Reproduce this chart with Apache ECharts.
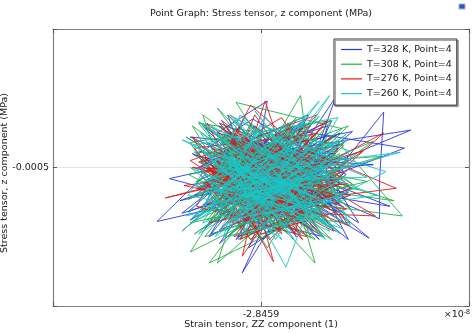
<!DOCTYPE html>
<html><head><meta charset="utf-8">
<script src="https://cdn.jsdelivr.net/npm/echarts@6/dist/echarts.min.js"></script>
<style>html,body{margin:0;padding:0;background:#fff}#c{width:474px;height:333px}</style>
</head><body><div id="c"></div>
<script>
const seriesNames = ['T=328 K, Point=4', 'T=308 K, Point=4', 'T=276 K, Point=4', 'T=260 K, Point=4'];
const seriesColors = ['#2a36e0', '#25b04a', '#e01818', '#16c6c6'];
const xTickLabels = [-2.8459];
const yTickLabels = [-0.0005];

const blueX = [-2.845912,-2.845880,-2.845925,-2.845871,-2.845903,-2.845950,-2.845895,-2.845864,-2.845918,-2.845884,
-2.845841,-2.845843,-2.845843,-2.845899,-2.845930,-2.845876,-2.845909,-2.845890,-2.845868,-2.845921,
-2.845897,-2.845905,-2.845862,-2.845915,-2.845882,-2.845828,-2.845896,-2.845927,-2.845873,-2.845907,
-2.845939,-2.845886,-2.845858,-2.845901,-2.845919,-2.845877,-2.845864,-2.845893,-2.845911,-2.845870,
-2.845924,-2.845888,-2.845831,-2.845904,-2.845880,-2.845916,-2.845896,-2.845866,-2.845908,-2.845929,
-2.845885,-2.845872,-2.845902,-2.845920,-2.845878,-2.845853,-2.845898,-2.845914,-2.845887,-2.845934,
-2.845869,-2.845906,-2.845890,-2.845846,-2.845923,-2.845881,-2.845900,-2.845912,-2.845875,-2.845894,
-2.845928,-2.845861,-2.845905,-2.845883,-2.845917,-2.845892,-2.845870,-2.845938,-2.845899,-2.845856,
-2.845910,-2.845886,-2.845921,-2.845874,-2.845903,-2.845848,-2.845895,-2.845913,-2.845879,-2.845927,
-2.845891,-2.845866,-2.845908,-2.845884,-2.845944,-2.845897,-2.845872,-2.845916,-2.845889,-2.845860,
-2.845904,-2.845931,-2.845882,-2.845898,-2.845868,-2.845912,-2.845838,-2.845893,-2.845920,-2.845879,
-2.845860,-2.845928,-2.845872,-2.845915,-2.845858,-2.845905,-2.845931,-2.845866,-2.845890,-2.845922,
-2.845862,-2.845934,-2.845879,-2.845911,-2.845857,-2.845926,-2.845884,-2.845868,-2.845930,-2.845899,
-2.845859,-2.845920,-2.845875,-2.845933,-2.845864,-2.845908,-2.845927,-2.845870,-2.845918,-2.845856,
-2.845924,-2.845881,-2.845932,-2.845863,-2.845912,-2.845877,-2.845929,-2.845861,-2.845903,-2.845921,
-2.845866,-2.845935,-2.845887,-2.845858,-2.845916,-2.845873,-2.845925,-2.845894,-2.845860,-2.845930];
const blueY = [-0.000505,-0.000478,-0.000530,-0.000512,-0.000470,-0.000539,-0.000520,-0.000490,-0.000488,-0.000541,
-0.000460,-0.000509,-0.000537,-0.000501,-0.000515,-0.000468,-0.000576,-0.000530,-0.000497,-0.000475,
-0.000452,-0.000523,-0.000526,-0.000498,-0.000507,-0.000473,-0.000489,-0.000544,-0.000482,-0.000512,
-0.000524,-0.000495,-0.000518,-0.000536,-0.000481,-0.000503,-0.000449,-0.000514,-0.000493,-0.000535,
-0.000507,-0.000472,-0.000486,-0.000528,-0.000519,-0.000462,-0.000547,-0.000508,-0.000484,-0.000499,
-0.000526,-0.000491,-0.000505,-0.000532,-0.000479,-0.000540,-0.000496,-0.000517,-0.000485,-0.000478,
-0.000521,-0.000558,-0.000503,-0.000498,-0.000490,-0.000532,-0.000474,-0.000524,-0.000509,-0.000539,
-0.000511,-0.000483,-0.000497,-0.000550,-0.000470,-0.000515,-0.000502,-0.000533,-0.000487,-0.000474,
-0.000542,-0.000494,-0.000520,-0.000528,-0.000481,-0.000551,-0.000508,-0.000499,-0.000466,-0.000527,
-0.000523,-0.000495,-0.000535,-0.000488,-0.000508,-0.000527,-0.000517,-0.000486,-0.000543,-0.000503,
-0.000465,-0.000491,-0.000512,-0.000532,-0.000476,-0.000510,-0.000528,-0.000496,-0.000555,-0.000500,
-0.000540,-0.000470,-0.000552,-0.000478,-0.000495,-0.000548,-0.000510,-0.000466,-0.000545,-0.000530,
-0.000475,-0.000538,-0.000468,-0.000550,-0.000520,-0.000482,-0.000548,-0.000470,-0.000500,-0.000552,
-0.000505,-0.000468,-0.000545,-0.000490,-0.000532,-0.000464,-0.000528,-0.000550,-0.000476,-0.000515,
-0.000548,-0.000470,-0.000520,-0.000486,-0.000552,-0.000462,-0.000496,-0.000528,-0.000470,-0.000540,
-0.000490,-0.000532,-0.000468,-0.000552,-0.000480,-0.000510,-0.000550,-0.000472,-0.000522,-0.000488];

const greenX = [-2.845895,-2.845921,-2.845880,-2.845934,-2.845903,-2.845871,-2.845925,-2.845889,-2.845912,-2.845865,
-2.845832,-2.845898,-2.845917,-2.845876,-2.845881,-2.845907,-2.845874,-2.845891,-2.845929,-2.845862,
-2.845904,-2.845885,-2.845919,-2.845836,-2.845896,-2.845910,-2.845870,-2.845932,-2.845887,-2.845901,
-2.845921,-2.845879,-2.845913,-2.845868,-2.845894,-2.845926,-2.845883,-2.845906,-2.845860,-2.845915,
-2.845890,-2.845873,-2.845928,-2.845899,-2.845849,-2.845911,-2.845884,-2.845920,-2.845867,-2.845902,
-2.845938,-2.845893,-2.845876,-2.845914,-2.845888,-2.845857,-2.845905,-2.845923,-2.845880,-2.845896,
-2.845870,-2.845918,-2.845842,-2.845900,-2.845931,-2.845886,-2.845909,-2.845864,-2.845892,-2.845916,
-2.845878,-2.845903,-2.845930,-2.845882,-2.845911,-2.845869,-2.845897,-2.845922,-2.845888,-2.845853,
-2.845907,-2.845926,-2.845875,-2.845894,-2.845919,-2.845866,-2.845901,-2.845884,-2.845935,-2.845898,
-2.845872,-2.845913,-2.845890,-2.845846,-2.845908,-2.845880,-2.845924,-2.845895,-2.845863,-2.845916,
-2.845887,-2.845903,-2.845929,-2.845877,-2.845899,-2.845914,-2.845869,-2.845892,-2.845921,-2.845884,
-2.845932,-2.845861,-2.845912,-2.845870,-2.845926,-2.845858,-2.845905,-2.845934,-2.845866,-2.845912,
-2.845880,-2.845929,-2.845857,-2.845921,-2.845874,-2.845935,-2.845863,-2.845909,-2.845928,-2.845868,
-2.845916,-2.845859,-2.845931,-2.845877,-2.845924,-2.845862,-2.845900,-2.845933,-2.845871,-2.845915,
-2.845856,-2.845927,-2.845883,-2.845919,-2.845864,-2.845936,-2.845875,-2.845911,-2.845860,-2.845930,
-2.845887,-2.845922,-2.845858,-2.845904,-2.845929,-2.845866,-2.845918,-2.845873,-2.845934,-2.845862];
const greenY = [-0.000510,-0.000457,-0.000520,-0.000561,-0.000488,-0.000530,-0.000569,-0.000499,-0.000536,-0.000478,
-0.000535,-0.000522,-0.000494,-0.000505,-0.000448,-0.000515,-0.000569,-0.000482,-0.000520,-0.000512,
-0.000541,-0.000471,-0.000507,-0.000524,-0.000496,-0.000527,-0.000490,-0.000489,-0.000531,-0.000476,
-0.000569,-0.000514,-0.000483,-0.000539,-0.000503,-0.000532,-0.000464,-0.000509,-0.000497,-0.000548,
-0.000518,-0.000475,-0.000503,-0.000529,-0.000510,-0.000492,-0.000540,-0.000478,-0.000521,-0.000500,
-0.000546,-0.000485,-0.000551,-0.000514,-0.000493,-0.000530,-0.000468,-0.000525,-0.000502,-0.000537,
-0.000483,-0.000499,-0.000492,-0.000517,-0.000510,-0.000477,-0.000533,-0.000506,-0.000545,-0.000488,
-0.000526,-0.000495,-0.000467,-0.000511,-0.000520,-0.000492,-0.000558,-0.000497,-0.000472,-0.000516,
-0.000504,-0.000538,-0.000498,-0.000524,-0.000481,-0.000544,-0.000512,-0.000487,-0.000523,-0.000500,
-0.000463,-0.000527,-0.000509,-0.000481,-0.000549,-0.000535,-0.000511,-0.000490,-0.000523,-0.000474,
-0.000516,-0.000532,-0.000495,-0.000507,-0.000543,-0.000503,-0.000515,-0.000479,-0.000529,-0.000499,
-0.000548,-0.000472,-0.000453,-0.000550,-0.000500,-0.000520,-0.000552,-0.000482,-0.000466,-0.000545,
-0.000470,-0.000530,-0.000540,-0.000476,-0.000552,-0.000505,-0.000488,-0.000548,-0.000462,-0.000528,
-0.000550,-0.000480,-0.000515,-0.000468,-0.000540,-0.000495,-0.000552,-0.000470,-0.000538,-0.000462,
-0.000512,-0.000550,-0.000466,-0.000490,-0.000546,-0.000478,-0.000530,-0.000552,-0.000484,-0.000468,
-0.000548,-0.000505,-0.000470,-0.000536,-0.000492,-0.000552,-0.000476,-0.000520,-0.000540,-0.000490];

const redX = [-2.845898,-2.845946,-2.845884,-2.845910,-2.845876,-2.845835,-2.845903,-2.845890,-2.845917,-2.845868,
-2.845841,-2.845896,-2.845907,-2.845880,-2.845898,-2.845914,-2.845887,-2.845872,-2.845904,-2.845894,
-2.845921,-2.845882,-2.845909,-2.845866,-2.845899,-2.845909,-2.845886,-2.845926,-2.845875,-2.845902,
-2.845893,-2.845918,-2.845862,-2.845905,-2.845888,-2.845928,-2.845879,-2.845897,-2.845912,-2.845870,
-2.845893,-2.845906,-2.845884,-2.845919,-2.845858,-2.845901,-2.845889,-2.845915,-2.845877,-2.845933,
-2.845895,-2.845866,-2.845908,-2.845883,-2.845920,-2.845891,-2.845873,-2.845904,-2.845912,-2.845845,
-2.845887,-2.845900,-2.845924,-2.845878,-2.845896,-2.845869,-2.845913,-2.845885,-2.845930,-2.845892,
-2.845863,-2.845907,-2.845881,-2.845917,-2.845894,-2.845872,-2.845902,-2.845890,-2.845927,-2.845876,
-2.845909,-2.845885,-2.845860,-2.845899,-2.845916,-2.845888,-2.845905,-2.845871,-2.845937,-2.845893,
-2.845880,-2.845911,-2.845898,-2.845851,-2.845903,-2.845889,-2.845922,-2.845874,-2.845907,-2.845895,
-2.845882,-2.845914,-2.845867,-2.845900,-2.845925,-2.845886,-2.845904,-2.845877,-2.845918,-2.845893,
-2.845870,-2.845920,-2.845862,-2.845905,-2.845931,-2.845878,-2.845915,-2.845857,-2.845896,-2.845926,
-2.845866,-2.845912,-2.845881,-2.845934,-2.845873,-2.845918,-2.845860,-2.845905,-2.845929,-2.845884,
-2.845914,-2.845868,-2.845924,-2.845859,-2.845900,-2.845932,-2.845875,-2.845910,-2.845864,-2.845922,
-2.845890,-2.845858,-2.845927,-2.845872,-2.845916,-2.845862,-2.845906,-2.845933,-2.845880,-2.845919,
-2.845869,-2.845925,-2.845886,-2.845857,-2.845913,-2.845877,-2.845930,-2.845865,-2.845903,-2.845921];
const redY = [-0.000505,-0.000522,-0.000498,-0.000515,-0.000489,-0.000515,-0.000528,-0.000492,-0.000503,-0.000511,
-0.000475,-0.000519,-0.000486,-0.000534,-0.000452,-0.000525,-0.000507,-0.000497,-0.000512,-0.000568,
-0.000495,-0.000520,-0.000480,-0.000531,-0.000499,-0.000564,-0.000513,-0.000509,-0.000486,-0.000523,
-0.000494,-0.000538,-0.000502,-0.000507,-0.000476,-0.000527,-0.000516,-0.000485,-0.000499,-0.000524,
-0.000511,-0.000533,-0.000490,-0.000517,-0.000512,-0.000496,-0.000541,-0.000488,-0.000505,-0.000500,
-0.000514,-0.000478,-0.000520,-0.000527,-0.000470,-0.000503,-0.000544,-0.000491,-0.000531,-0.000535,
-0.000497,-0.000510,-0.000486,-0.000512,-0.000530,-0.000493,-0.000508,-0.000482,-0.000516,-0.000521,
-0.000508,-0.000499,-0.000537,-0.000525,-0.000489,-0.000519,-0.000501,-0.000548,-0.000493,-0.000470,
-0.000513,-0.000505,-0.000529,-0.000483,-0.000540,-0.000518,-0.000494,-0.000500,-0.000513,-0.000527,
-0.000493,-0.000521,-0.000509,-0.000488,-0.000543,-0.000500,-0.000510,-0.000532,-0.000478,-0.000517,
-0.000509,-0.000496,-0.000515,-0.000536,-0.000502,-0.000524,-0.000503,-0.000494,-0.000529,-0.000507,
-0.000470,-0.000545,-0.000512,-0.000455,-0.000528,-0.000550,-0.000480,-0.000500,-0.000552,-0.000468,
-0.000538,-0.000472,-0.000548,-0.000495,-0.000462,-0.000525,-0.000482,-0.000552,-0.000505,-0.000470,
-0.000540,-0.000466,-0.000518,-0.000530,-0.000548,-0.000486,-0.000476,-0.000552,-0.000520,-0.000492,
-0.000464,-0.000542,-0.000500,-0.000548,-0.000474,-0.000508,-0.000538,-0.000478,-0.000552,-0.000466,
-0.000522,-0.000540,-0.000470,-0.000515,-0.000550,-0.000480,-0.000496,-0.000546,-0.000462,-0.000530];

const cyanX = [-2.845905,-2.845938,-2.845882,-2.845925,-2.845893,-2.845867,-2.845911,-2.845876,-2.845833,-2.845899,
-2.845918,-2.845888,-2.845872,-2.845906,-2.845928,-2.845884,-2.845897,-2.845862,-2.845915,-2.845890,
-2.845878,-2.845932,-2.845901,-2.845869,-2.845920,-2.845887,-2.845857,-2.845909,-2.845894,-2.845923,
-2.845875,-2.845903,-2.845881,-2.845914,-2.845866,-2.845897,-2.845930,-2.845885,-2.845910,-2.845849,
-2.845892,-2.845921,-2.845878,-2.845905,-2.845868,-2.845916,-2.845889,-2.845936,-2.845899,-2.845873,
-2.845912,-2.845883,-2.845927,-2.845861,-2.845896,-2.845908,-2.845880,-2.845919,-2.845891,-2.845844,
-2.845902,-2.845924,-2.845876,-2.845898,-2.845913,-2.845870,-2.845887,-2.845931,-2.845904,-2.845865,
-2.845893,-2.845917,-2.845882,-2.845900,-2.845926,-2.845874,-2.845908,-2.845886,-2.845840,-2.845895,
-2.845920,-2.845879,-2.845911,-2.845863,-2.845899,-2.845929,-2.845888,-2.845906,-2.845871,-2.845916,
-2.845892,-2.845935,-2.845877,-2.845903,-2.845884,-2.845922,-2.845859,-2.845897,-2.845912,-2.845881,
-2.845907,-2.845890,-2.845925,-2.845868,-2.845901,-2.845915,-2.845886,-2.845873,-2.845909,-2.845895,
-2.845858,-2.845930,-2.845872,-2.845915,-2.845861,-2.845924,-2.845890,-2.845934,-2.845867,-2.845910,
-2.845927,-2.845856,-2.845903,-2.845918,-2.845872,-2.845933,-2.845863,-2.845896,-2.845925,-2.845880,
-2.845857,-2.845921,-2.845869,-2.845912,-2.845935,-2.845874,-2.845906,-2.845860,-2.845929,-2.845884,
-2.845916,-2.845865,-2.845931,-2.845878,-2.845908,-2.845859,-2.845922,-2.845888,-2.845933,-2.845870,
-2.845913,-2.845862,-2.845926,-2.845882,-2.845919,-2.845857,-2.845900,-2.845928,-2.845868,-2.845911];
const cyanY = [-0.000500,-0.000480,-0.000523,-0.000472,-0.000509,-0.000448,-0.000532,-0.000497,-0.000489,-0.000517,
-0.000491,-0.000572,-0.000508,-0.000483,-0.000528,-0.000470,-0.000540,-0.000519,-0.000504,-0.000488,
-0.000531,-0.000513,-0.000495,-0.000480,-0.000545,-0.000511,-0.000536,-0.000476,-0.000524,-0.000498,
-0.000515,-0.000459,-0.000501,-0.000538,-0.000493,-0.000528,-0.000486,-0.000546,-0.000510,-0.000507,
-0.000481,-0.000520,-0.000489,-0.000535,-0.000525,-0.000495,-0.000517,-0.000535,-0.000472,-0.000503,
-0.000523,-0.000494,-0.000509,-0.000544,-0.000500,-0.000548,-0.000479,-0.000514,-0.000530,-0.000520,
-0.000489,-0.000527,-0.000511,-0.000463,-0.000502,-0.000538,-0.000497,-0.000519,-0.000515,-0.000484,
-0.000552,-0.000482,-0.000506,-0.000526,-0.000491,-0.000522,-0.000498,-0.000539,-0.000503,-0.000477,
-0.000533,-0.000496,-0.000516,-0.000510,-0.000541,-0.000475,-0.000520,-0.000504,-0.000533,-0.000510,
-0.000491,-0.000542,-0.000487,-0.000521,-0.000513,-0.000502,-0.000498,-0.000534,-0.000480,-0.000527,
-0.000492,-0.000508,-0.000518,-0.000499,-0.000545,-0.000488,-0.000503,-0.000526,-0.000520,-0.000494,
-0.000480,-0.000548,-0.000452,-0.000538,-0.000520,-0.000470,-0.000552,-0.000500,-0.000546,-0.000462,
-0.000528,-0.000498,-0.000474,-0.000550,-0.000536,-0.000484,-0.000464,-0.000548,-0.000508,-0.000470,
-0.000542,-0.000490,-0.000552,-0.000466,-0.000520,-0.000540,-0.000478,-0.000510,-0.000468,-0.000552,
-0.000486,-0.000544,-0.000502,-0.000462,-0.000530,-0.000476,-0.000550,-0.000472,-0.000536,-0.000500,
-0.000464,-0.000548,-0.000482,-0.000526,-0.000546,-0.000488,-0.000470,-0.000540,-0.000506,-0.000520];

const seriesX = [blueX, greenX, redX, cyanX];
const seriesY = [blueY, greenY, redY, cyanY];

const FONT = 'DejaVu Sans';
const TXT = '#1a1a1a';
const FRAME = '#808080';

function pairs(xs, ys) {
  const n = Math.min(xs.length, ys.length);
  const out = [];
  for (let i = 0; i < n; i++) out.push([xs[i], ys[i]]);
  return out;
}
function tickFmt(list, dec) {
  return v => list.some(t => Math.abs(t - v) < 1e-12) ? v.toFixed(dec) : '';
}

const chart = echarts.init(document.getElementById('c'), null, {renderer: 'canvas'});
const axisCommon = {
  axisLine: {show: true, lineStyle: {color: FRAME, width: 1.2}},
  axisTick: {show: true, inside: true, length: 4, lineStyle: {color: '#555'}},
  splitLine: {show: false},
  axisLabel: {show: false}
};
chart.setOption({
  animation: false,
  backgroundColor: '#fff',
  textStyle: {fontFamily: FONT},
  grid: {left: 53, right: 5, top: 29, bottom: 27, show: false, containLabel: false, outerBoundsMode: 'none'},
  xAxis: [{
    type: 'value', min: -2.8460, max: -2.8458, interval: 0.0001,
    axisLine: {show: true, onZero: false, lineStyle: {color: FRAME, width: 1.2}},
    axisTick: {show: true, inside: true, length: 4, lineStyle: {color: '#555'}},
    splitLine: {show: true, lineStyle: {color: '#e4e4e4', width: 1}},
    axisLabel: {show: true, margin: 4, fontFamily: FONT, fontSize: 9.5, color: TXT,
      formatter: tickFmt(xTickLabels, 4)},
    name: 'Strain tensor, ZZ component (1)', nameLocation: 'middle', nameGap: 14, nameMoveOverlap: false,
    nameTextStyle: {fontFamily: FONT, fontSize: 9.5, color: TXT}
  }, Object.assign({type: 'value', position: 'top', min: -2.8460, max: -2.8458, interval: 0.0001}, axisCommon)],
  yAxis: [{
    type: 'value', min: -0.0006, max: -0.0004, interval: 0.0001,
    axisLine: {show: true, onZero: false, lineStyle: {color: FRAME, width: 1.2}},
    axisTick: {show: true, inside: true, length: 4, lineStyle: {color: '#555'}},
    splitLine: {show: true, lineStyle: {color: '#e4e4e4', width: 1}},
    axisLabel: {show: true, margin: 4, fontFamily: FONT, fontSize: 9.5, color: TXT,
      formatter: tickFmt(yTickLabels, 4)}
  }, Object.assign({type: 'value', position: 'right', min: -0.0006, max: -0.0004, interval: 0.0001}, axisCommon)],
  legend: {
    left: 334, top: 39, orient: 'vertical',
    backgroundColor: '#fff', borderColor: '#333', borderWidth: 1,
    shadowColor: 'rgba(0,0,0,0.35)', shadowOffsetX: 1.5, shadowOffsetY: 1.5, shadowBlur: 0,
    padding: [5, 5, 6, 7], itemGap: 3.7, itemWidth: 21, itemHeight: 1.2, icon: 'rect',
    textStyle: {fontFamily: FONT, fontSize: 9.5, color: TXT, lineHeight: 11},
    data: seriesNames
  },
  graphic: [
    {type: 'text', x: 261, y: 14, style: {text: 'Point Graph: Stress tensor, z component (MPa)',
      font: '9.5px "DejaVu Sans"', fill: TXT, align: 'center', verticalAlign: 'middle'}},
    {type: 'text', x: 5, y: 173, rotation: Math.PI / 2, style: {text: 'Stress tensor, z component (MPa)',
      font: '9.5px "DejaVu Sans"', fill: TXT, align: 'center', verticalAlign: 'middle'}},
    {type: 'text', x: 470, y: 315, style: {text: '×10{s|-8}', rich: {s: {fontSize: 7, verticalAlign: 'top', padding: [0,0,6,0]}},
      font: '9.5px "DejaVu Sans"', fill: TXT, align: 'right', verticalAlign: 'middle'}},
    {type: 'rect', shape: {x: 459, y: 4, width: 6, height: 5}, style: {fill: '#2b58b0', stroke: '#9ab0d8', lineWidth: 1}}
  ],
  series: seriesNames.map((name, i) => ({
    name, type: 'line', data: pairs(seriesX[i], seriesY[i]),
    showSymbol: false, symbol: 'none', clip: true,
    color: seriesColors[i],
    lineStyle: {width: 0.9, color: seriesColors[i]},
    emphasis: {disabled: true}
  }))
});
</script></body></html>
